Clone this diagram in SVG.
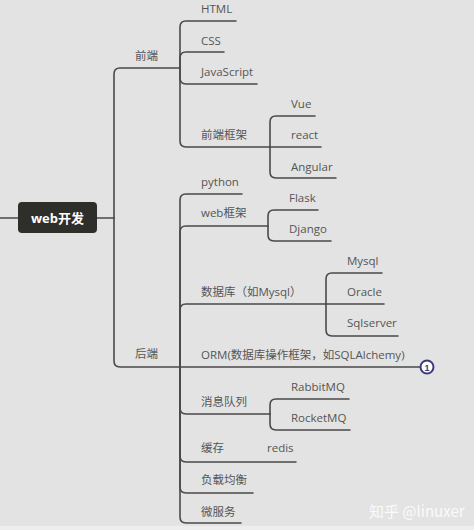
<svg xmlns="http://www.w3.org/2000/svg" width="474" height="530" viewBox="0 0 474 530">
<style>
.c{fill:none;stroke:#4a4a4a;stroke-width:1.6;stroke-linecap:round;stroke-linejoin:round}
.t{font-family:"Open Sans","Noto Sans CJK SC",sans-serif;font-size:11.5px;fill:#555}
.r{font-family:"Open Sans","Noto Sans CJK SC",sans-serif;font-size:13px;font-weight:bold;fill:#fff}
</style>
<rect x="0" y="0" width="474" height="530" fill="#e3e3e3"/>
<rect x="0" y="526" width="474" height="4" fill="#eeeeee"/>
<g id="connectors">
<path class="c" d="M0,218 H18 M97,218 H114"/>
<path class="c" d="M114,218 V74 Q114,68 120,68 H180"/>
<path class="c" d="M114,218 V361 Q114,367 120,367 H180"/>
<path class="c" d="M180,68 V27 Q180,21 186,21 H236"/>
<path class="c" d="M180,68 V58 Q180,52 186,52 H224"/>
<path class="c" d="M180,68 V78 Q180,84 186,84 H257"/>
<path class="c" d="M180,68 V141 Q180,147 186,147 H270"/>
<path class="c" d="M270,147 V122 Q270,116 276,116 H315"/>
<path class="c" d="M270,147 H321"/>
<path class="c" d="M270,147 V172 Q270,178 276,178 H336"/>
<path class="c" d="M180,367 V200 Q180,194 186,194 H242"/>
<path class="c" d="M180,367 V232 Q180,226 186,226 H268"/>
<path class="c" d="M268,226 V216 Q268,210 274,210 H318"/>
<path class="c" d="M268,226 V235 Q268,241 274,241 H331"/>
<path class="c" d="M180,367 V310 Q180,304 186,304 H326"/>
<path class="c" d="M326,304 V279 Q326,273 332,273 H382"/>
<path class="c" d="M326,304 H384"/>
<path class="c" d="M326,304 V330 Q326,336 332,336 H398"/>
<path class="c" d="M180,367 H420"/>
<path class="c" d="M180,367 V408 Q180,414 186,414 H270"/>
<path class="c" d="M270,414 V405 Q270,399 276,399 H349"/>
<path class="c" d="M270,414 V424 Q270,430 276,430 H350"/>
<path class="c" d="M180,367 V456 Q180,462 186,462 H296"/>
<path class="c" d="M180,367 V487 Q180,493 186,493 H253"/>
<path class="c" d="M180,367 V517 Q180,523 186,523 H241"/>
</g>
<g id="root">
<rect x="18" y="202" width="79" height="31" rx="4" fill="#2e2e2b"/>
<text class="r" x="57.5" y="222.5" text-anchor="middle">web开发</text>
</g>
<g id="n-qianduan"><text class="t" x="135" y="60">前端</text></g>
<g id="n-html"><text class="t" x="201" y="13">HTML</text></g>
<g id="n-css"><text class="t" x="201" y="45">CSS</text></g>
<g id="n-js"><text class="t" x="201" y="76">JavaScript</text></g>
<g id="n-kuangjia"><text class="t" x="201" y="139">前端框架</text></g>
<g id="n-vue"><text class="t" x="291" y="108">Vue</text></g>
<g id="n-react"><text class="t" x="291" y="139">react</text></g>
<g id="n-angular"><text class="t" x="291" y="171">Angular</text></g>
<g id="n-houduan"><text class="t" x="135" y="358">后端</text></g>
<g id="n-python"><text class="t" x="201" y="186">python</text></g>
<g id="n-webkj"><text class="t" x="201" y="217">web框架</text></g>
<g id="n-flask"><text class="t" x="289" y="202">Flask</text></g>
<g id="n-django"><text class="t" x="289" y="233">Django</text></g>
<g id="n-db"><text class="t" x="201" y="296">数据库（如Mysql）</text></g>
<g id="n-mysql"><text class="t" x="347" y="265">Mysql</text></g>
<g id="n-oracle"><text class="t" x="347" y="296">Oracle</text></g>
<g id="n-sqlserver"><text class="t" x="347" y="327">Sqlserver</text></g>
<g id="n-orm"><text class="t" x="201" y="359">ORM(数据库操作框架，如SQLAlchemy)</text>
<circle cx="427" cy="367" r="6.5" fill="#fff" stroke="#3a3a80" stroke-width="2"/>
<text x="427" y="370.5" text-anchor="middle" font-family="Liberation Sans, sans-serif" font-size="9" font-weight="bold" fill="#3a3a80">1</text>
</g>
<g id="n-mq"><text class="t" x="201" y="406">消息队列</text></g>
<g id="n-rabbit"><text class="t" x="291" y="391">RabbitMQ</text></g>
<g id="n-rocket"><text class="t" x="291" y="422">RocketMQ</text></g>
<g id="n-cache"><text class="t" x="201" y="452">缓存</text></g>
<g id="n-redis"><text class="t" x="267" y="452">redis</text></g>
<g id="n-lb"><text class="t" x="201" y="484">负载均衡</text></g>
<g id="n-micro"><text class="t" x="201" y="516">微服务</text></g>
<text x="369" y="517" font-family="Noto Sans CJK SC, sans-serif" font-size="15" fill="#ffffff" fill-opacity="0.85">知乎 @linuxer</text>
</svg>
